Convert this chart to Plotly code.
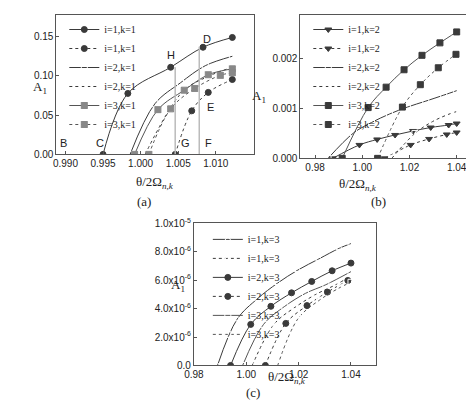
import plotly.graph_objects as go

# panel (a): k=1
a_labels = ['i=1,k=1', 'i=1,k=1', 'i=2,k=1', 'i=2,k=1', 'i=3,k=1', 'i=3,k=1']
a_x = [
    [0.9950, 0.9983, 1.0040, 1.0083, 1.0122],
    [1.0046, 1.0068, 1.0090, 1.0122],
    [0.9986, 1.0019, 1.0053, 1.0086, 1.0122],
    [1.0006, 1.0056, 1.0089, 1.0122],
    [0.9992, 1.0023, 1.0058, 1.0090, 1.0122],
    [1.0011, 1.0040, 1.0072, 1.0106, 1.0122],
]
a_y = [
    [0, 0.0777, 0.111, 0.1365, 0.149],
    [0, 0.0555, 0.079, 0.0954],
    [0, 0.0645, 0.0912, 0.113, 0.125],
    [0, 0.080, 0.099, 0.111],
    [0, 0.057, 0.0818, 0.1015, 0.109],
    [0, 0.058, 0.084, 0.1007, 0.104],
]
a_letters = ['B', 'C', 'G', 'F', 'E', 'H', 'D']
a_letter_x = [0.9898, 0.9946, 1.0060, 1.0090, 1.0093, 1.0041, 1.0088]
a_letter_y = [0.014, 0.014, 0.014, 0.014, 0.061, 0.127, 0.147]
a_vline_x = [1.0046, 1.0078]
a_vline_top = [0.111, 0.137]

# panel (b): k=2
b_labels = ['i=1,k=2', 'i=1,k=2', 'i=2,k=2', 'i=2,k=2', 'i=3,k=2', 'i=3,k=2']
b_x = [
    [0.9875, 0.9988, 1.0063, 1.0139, 1.0215, 1.0290, 1.0366, 1.0400],
    [1.0095, 1.0205, 1.0283, 1.0358, 1.0400],
    [0.9855, 0.9963, 1.0039, 1.0115, 1.0191, 1.0269, 1.0345, 1.0400],
    [1.0125, 1.0223, 1.0298, 1.0374, 1.0400],
    [0.9915, 1.0025, 1.0101, 1.0177, 1.0253, 1.0329, 1.0400],
    [1.0065, 1.0170, 1.0246, 1.0322, 1.0397],
]
b_y = [
    [0, 0.00027, 0.00038, 0.00047, 0.00055, 0.00062, 0.00067, 0.00070],
    [0, 0.00027, 0.00039, 0.00048, 0.00052],
    [0, 0.00051, 0.00072, 0.00089, 0.00103, 0.00115, 0.00127, 0.00136],
    [0, 0.00050, 0.00074, 0.00090, 0.00094],
    [0, 0.00102, 0.00143, 0.00178, 0.00207, 0.00232, 0.00254],
    [0, 0.00103, 0.00148, 0.00182, 0.00209],
]

# panel (c): k=3
c_labels = ['i=1,k=3', 'i=1,k=3', 'i=2,k=3', 'i=2,k=3', 'i=3,k=3', 'i=3,k=3']
c_x = [
    [0.9890, 0.9965, 1.0043, 1.0120, 1.0197, 1.0278, 1.0356, 1.0400],
    [1.0023, 1.0106, 1.0187, 1.0266, 1.0344, 1.0400],
    [0.9940, 1.0017, 1.0094, 1.0173, 1.0250, 1.0328, 1.0400],
    [1.0073, 1.0151, 1.0232, 1.0310, 1.0388],
    [0.9986, 1.0066, 1.0147, 1.0226, 1.0304, 1.0400],
    [1.0120, 1.0198, 1.0280, 1.0360, 1.0400],
]
c_y = [
    [0, 3.25e-6, 4.70e-6, 5.80e-6, 6.71e-6, 7.50e-6, 8.25e-6, 8.57e-6],
    [0, 2.9e-6, 4.1e-6, 5.0e-6, 5.7e-6, 6.3e-6],
    [0, 2.89e-6, 4.16e-6, 5.11e-6, 5.91e-6, 6.66e-6, 7.2e-6],
    [0, 2.96e-6, 4.21e-6, 5.16e-6, 5.98e-6],
    [0, 2.89e-6, 4.16e-6, 5.07e-6, 5.68e-6, 6.6e-6],
    [0, 3.3e-6, 4.6e-6, 5.5e-6, 5.85e-6],
]
c_ticks = [0, 2e-6, 4e-6, 6e-6, 8e-6, 1e-5]
c_ticktext = ['0.0', '2.0x10<sup>-6</sup>', '4.0x10<sup>-6</sup>', '6.0x10<sup>-6</sup>',
              '8.0x10<sup>-6</sup>', '1.0x10<sup>-5</sup>']

LC = '#3a3a3a'
a_sym = [('circle', LC), ('circle', LC), ('square-open', LC), ('square-open', LC),
         ('square-x', '#888888'), ('square-x', '#888888')]
b_sym = [('triangle-down', LC), ('triangle-down', LC), ('square-open', LC), ('square-open', LC),
         ('square', LC), ('square', LC)]
c_sym = [('triangle-up-open', LC), ('triangle-up-open', LC), ('circle', LC), ('circle', LC),
         ('square-open', LC), ('square-open', LC)]

fig = go.Figure()


def add_panel(xs, ys, labels, syms, ax, legend):
    for n, (x, y) in enumerate(zip(xs, ys)):
        sym, col = syms[n]
        fig.add_trace(go.Scatter(
            x=x, y=y, mode='lines+markers', name=labels[n], legend=legend,
            line=dict(color=col if n < 4 else '#555555', width=1, shape='spline',
                      dash='solid' if n % 2 == 0 else 'dot'),
            marker=dict(symbol=sym, size=6, color='white' if 'open' in sym else col,
                        line=dict(color=col, width=1)),
            xaxis='x' + ax, yaxis='y' + ax))


add_panel(a_x, a_y, a_labels, a_sym, '', 'legend')
add_panel(b_x, b_y, b_labels, b_sym, '2', 'legend2')
add_panel(c_x, c_y, c_labels, c_sym, '3', 'legend3')

for vx, vt in zip(a_vline_x, a_vline_top):
    fig.add_trace(go.Scatter(x=[vx, vx], y=[0, vt], mode='lines', showlegend=False,
                             line=dict(color='#bbbbbb', width=1.5)))

ann = []
for t, x, y in zip(a_letters, a_letter_x, a_letter_y):
    ann.append(dict(x=x, y=y, xref='x', yref='y', text=t, showarrow=False,
                    font=dict(size=11, family='Liberation Sans', color='#222')))
serif = dict(family='Liberation Serif', size=13, color='#222')
for txt, x, y in [('(a)', 0.253, 0.53), ('(b)', 0.80, 0.53), ('(c)', 0.508, 0.022),
                  ('θ/2Ω<sub><i>n,k</i></sub>', 0.25, 0.577),
                  ('θ/2Ω<sub><i>n,k</i></sub>', 0.78, 0.572),
                  ('θ/2Ω<sub><i>n,k</i></sub>', 0.58, 0.059),
                  ('A<sub>1</sub>', 0.027, 0.843), ('A<sub>1</sub>', 0.52, 0.82),
                  ('A<sub>1</sub>', 0.345, 0.29)]:
    ann.append(dict(x=x, y=y, xref='paper', yref='paper', text=txt, showarrow=False, font=serif))

ax_style = dict(showline=True, mirror=True, linecolor='#555', linewidth=1, ticks='inside',
                ticklen=3, tickcolor='#555', showgrid=False, zeroline=False,
                tickfont=dict(family='Liberation Sans', size=10, color='#222'))
leg_style = dict(bgcolor='rgba(0,0,0,0)', font=dict(family='Liberation Serif', size=10, color='#222'),
                 tracegroupgap=0, itemwidth=30, xanchor='left', yanchor='top')

fig.update_layout(
    width=474, height=409, margin=dict(l=0, r=0, t=0, b=0),
    plot_bgcolor='white', paper_bgcolor='white', annotations=ann,
    xaxis=dict(domain=[0.083, 0.51], range=[0.9888, 1.0151], anchor='y',
               tickvals=[0.990, 0.995, 1.000, 1.005, 1.010], tickformat='.3f', **ax_style),
    yaxis=dict(domain=[0.648, 1.0], range=[0, 0.1776], anchor='x',
               tickvals=[0, 0.05, 0.10, 0.15], tickformat='.2f', **ax_style),
    xaxis2=dict(domain=[0.61, 1.0], range=[0.9738, 1.0503], anchor='y2',
                tickvals=[0.98, 1.00, 1.02, 1.04], tickformat='.2f', **ax_style),
    yaxis2=dict(domain=[0.638, 1.0], range=[0, 0.00288], anchor='x2',
                tickvals=[0, 0.001, 0.002], tickformat='.3f', **ax_style),
    xaxis3=dict(domain=[0.38, 0.774], range=[0.98, 1.0497], anchor='y3',
                tickvals=[0.98, 1.00, 1.02, 1.04], tickformat='.2f', **ax_style),
    yaxis3=dict(domain=[0.115, 0.474], range=[0, 1e-5], anchor='x3',
                tickvals=c_ticks, ticktext=c_ticktext, **ax_style),
    legend=dict(x=0.10, y=1.0, **leg_style),
    legend2=dict(x=0.627, y=1.0, **leg_style),
    legend3=dict(x=0.41, y=0.47, **leg_style),
)

fig.write_html("out.html")
